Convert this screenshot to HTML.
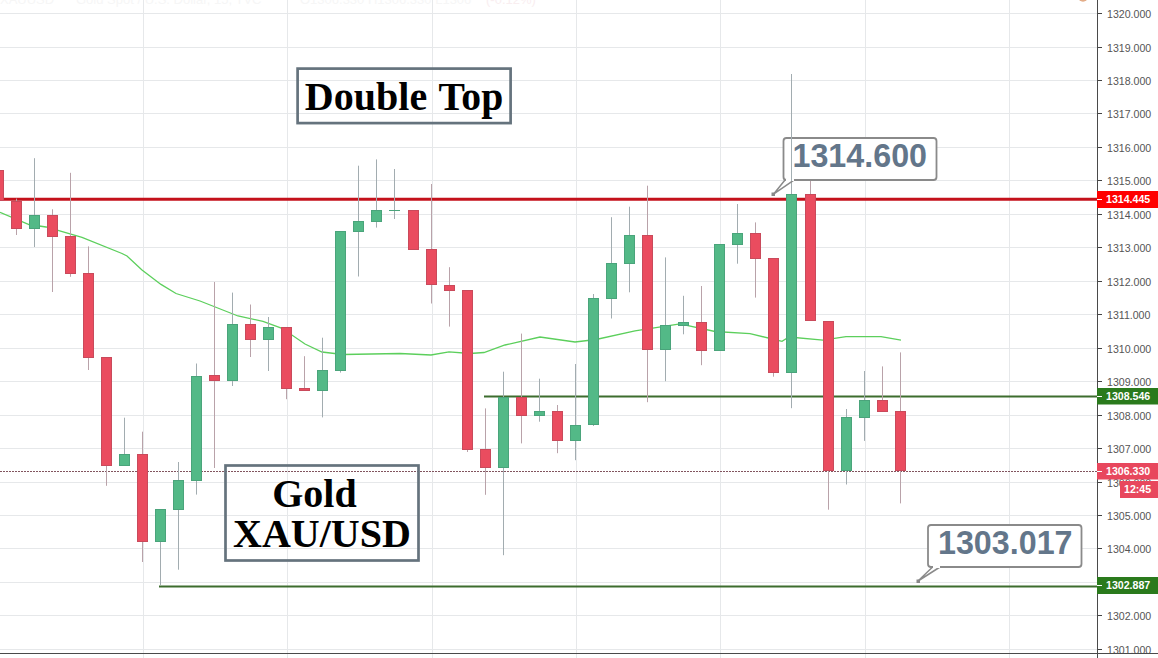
<!DOCTYPE html>
<html><head><meta charset="utf-8">
<style>
html,body{margin:0;padding:0;background:#fff;}
body{width:1158px;height:658px;overflow:hidden;position:relative;font-family:"Liberation Sans",sans-serif;}
svg{position:absolute;left:0;top:0;}
.g{stroke:#e6e8ea;stroke-width:1;}
.al{font-family:"Liberation Sans",sans-serif;font-size:10.6px;fill:#555;}
.lb{font-family:"Liberation Sans",sans-serif;font-size:10.6px;font-weight:bold;fill:#fff;}
.serif{font-family:"Liberation Serif",serif;font-weight:bold;fill:#000;font-size:40px;}
.co{font-family:"Liberation Sans",sans-serif;font-weight:bold;fill:#63768a;font-size:32.5px;}
</style></head><body>
<svg width="1158" height="658" viewBox="0 0 1158 658">
<g>
<line x1="0" y1="13.5" x2="1097" y2="13.5" class="g"/>
<line x1="0" y1="47.5" x2="1097" y2="47.5" class="g"/>
<line x1="0" y1="80.5" x2="1097" y2="80.5" class="g"/>
<line x1="0" y1="113.5" x2="1097" y2="113.5" class="g"/>
<line x1="0" y1="147.5" x2="1097" y2="147.5" class="g"/>
<line x1="0" y1="180.5" x2="1097" y2="180.5" class="g"/>
<line x1="0" y1="214.5" x2="1097" y2="214.5" class="g"/>
<line x1="0" y1="247.5" x2="1097" y2="247.5" class="g"/>
<line x1="0" y1="281.5" x2="1097" y2="281.5" class="g"/>
<line x1="0" y1="314.5" x2="1097" y2="314.5" class="g"/>
<line x1="0" y1="348.5" x2="1097" y2="348.5" class="g"/>
<line x1="0" y1="381.5" x2="1097" y2="381.5" class="g"/>
<line x1="0" y1="415.5" x2="1097" y2="415.5" class="g"/>
<line x1="0" y1="448.5" x2="1097" y2="448.5" class="g"/>
<line x1="0" y1="482.5" x2="1097" y2="482.5" class="g"/>
<line x1="0" y1="515.5" x2="1097" y2="515.5" class="g"/>
<line x1="0" y1="548.5" x2="1097" y2="548.5" class="g"/>
<line x1="0" y1="582.5" x2="1097" y2="582.5" class="g"/>
<line x1="0" y1="615.5" x2="1097" y2="615.5" class="g"/>
<line x1="0" y1="649.5" x2="1097" y2="649.5" class="g"/>
<line x1="143.5" y1="0" x2="143.5" y2="658" class="g"/>
<line x1="287.5" y1="0" x2="287.5" y2="658" class="g"/>
<line x1="432.5" y1="0" x2="432.5" y2="658" class="g"/>
<line x1="576.5" y1="0" x2="576.5" y2="658" class="g"/>
<line x1="720.5" y1="0" x2="720.5" y2="658" class="g"/>
<line x1="865.5" y1="0" x2="865.5" y2="658" class="g"/>
<line x1="1009.5" y1="0" x2="1009.5" y2="658" class="g"/>
<polyline fill="none" stroke="#5ccf5c" stroke-width="1.3" points="0,212.3 29,224.5 46,227 82,237.3 122,253.5 127,256 142,270 161,284.4 176,293.5 200,301 238,316 263,321.3 282,328.3 305,344 322,352 343,354.5 400,353.5 431,355 449,351.8 470,353.5 484,352.5 505,345 540,337 575,342 596,339.5 635,330.8 680,323.8 715,331.5 750,333.6 782,341.3 789,337 823,340.2 846,336.7 881,336.7 901,340.2"/>
<line x1="0" y1="199.3" x2="1097" y2="199.3" stroke="#c4111b" stroke-width="3"/>
<line x1="0" y1="471.5" x2="1097" y2="471.5" stroke="#82555f" stroke-width="1" stroke-dasharray="2 1"/>
<line x1="484" y1="396.5" x2="1097" y2="396.5" stroke="#3d6d2e" stroke-width="2"/>
<line x1="159" y1="586.4" x2="1097" y2="586.4" stroke="#3d6d2e" stroke-width="2"/>
<line x1="-1.5" y1="165" x2="-1.5" y2="203" stroke="#b9a2a9" stroke-width="1"/>
<rect x="-6.5" y="170.5" width="10" height="30" fill="#ea4c5f" stroke="#c94a5b" stroke-width="1"/>
<line x1="16.5" y1="198.6" x2="16.5" y2="235" stroke="#b9a2a9" stroke-width="1"/>
<rect x="11.5" y="201.5" width="10" height="27" fill="#ea4c5f" stroke="#c94a5b" stroke-width="1"/>
<line x1="34.5" y1="158.2" x2="34.5" y2="247" stroke="#a2acb0" stroke-width="1"/>
<rect x="29.5" y="215.5" width="10" height="13" fill="#53b987" stroke="#4aa47b" stroke-width="1"/>
<line x1="52.5" y1="209.3" x2="52.5" y2="292" stroke="#b9a2a9" stroke-width="1"/>
<rect x="47.5" y="215.5" width="10" height="21" fill="#ea4c5f" stroke="#c94a5b" stroke-width="1"/>
<line x1="70.5" y1="172.8" x2="70.5" y2="276.8" stroke="#b9a2a9" stroke-width="1"/>
<rect x="65.5" y="236.5" width="10" height="37" fill="#ea4c5f" stroke="#c94a5b" stroke-width="1"/>
<line x1="88.5" y1="246.4" x2="88.5" y2="370" stroke="#b9a2a9" stroke-width="1"/>
<rect x="83.5" y="273.5" width="10" height="84" fill="#ea4c5f" stroke="#c94a5b" stroke-width="1"/>
<line x1="106.5" y1="357" x2="106.5" y2="485.8" stroke="#b9a2a9" stroke-width="1"/>
<rect x="101.5" y="357.5" width="10" height="108" fill="#ea4c5f" stroke="#c94a5b" stroke-width="1"/>
<line x1="124.5" y1="417.7" x2="124.5" y2="466" stroke="#a2acb0" stroke-width="1"/>
<rect x="119.5" y="454.5" width="10" height="11" fill="#53b987" stroke="#4aa47b" stroke-width="1"/>
<line x1="142.5" y1="431.7" x2="142.5" y2="562" stroke="#b9a2a9" stroke-width="1"/>
<rect x="137.5" y="454.5" width="10" height="87" fill="#ea4c5f" stroke="#c94a5b" stroke-width="1"/>
<line x1="160.5" y1="509" x2="160.5" y2="585" stroke="#a2acb0" stroke-width="1"/>
<rect x="155.5" y="509.5" width="10" height="32" fill="#53b987" stroke="#4aa47b" stroke-width="1"/>
<line x1="178.5" y1="462" x2="178.5" y2="569.7" stroke="#a2acb0" stroke-width="1"/>
<rect x="173.5" y="480.5" width="10" height="29" fill="#53b987" stroke="#4aa47b" stroke-width="1"/>
<line x1="196.5" y1="363.5" x2="196.5" y2="494.6" stroke="#a2acb0" stroke-width="1"/>
<rect x="191.5" y="376.5" width="10" height="104" fill="#53b987" stroke="#4aa47b" stroke-width="1"/>
<line x1="214.5" y1="282" x2="214.5" y2="468" stroke="#b9a2a9" stroke-width="1"/>
<rect x="209.5" y="375.5" width="10" height="5" fill="#ea4c5f" stroke="#c94a5b" stroke-width="1"/>
<line x1="232.5" y1="292.6" x2="232.5" y2="386" stroke="#a2acb0" stroke-width="1"/>
<rect x="227.5" y="324.5" width="10" height="56" fill="#53b987" stroke="#4aa47b" stroke-width="1"/>
<line x1="250.5" y1="304.5" x2="250.5" y2="357" stroke="#b9a2a9" stroke-width="1"/>
<rect x="245.5" y="324.5" width="10" height="15" fill="#ea4c5f" stroke="#c94a5b" stroke-width="1"/>
<line x1="268.5" y1="317" x2="268.5" y2="371" stroke="#a2acb0" stroke-width="1"/>
<rect x="263.5" y="327.5" width="10" height="12" fill="#53b987" stroke="#4aa47b" stroke-width="1"/>
<line x1="286.5" y1="327" x2="286.5" y2="399.2" stroke="#b9a2a9" stroke-width="1"/>
<rect x="281.5" y="327.5" width="10" height="61" fill="#ea4c5f" stroke="#c94a5b" stroke-width="1"/>
<line x1="304.5" y1="356.2" x2="304.5" y2="391" stroke="#b9a2a9" stroke-width="1"/>
<rect x="299.5" y="388.5" width="10" height="2" fill="#ea4c5f" stroke="#c94a5b" stroke-width="1"/>
<line x1="322.5" y1="337.7" x2="322.5" y2="417.4" stroke="#a2acb0" stroke-width="1"/>
<rect x="317.5" y="370.5" width="10" height="20" fill="#53b987" stroke="#4aa47b" stroke-width="1"/>
<line x1="340.5" y1="231" x2="340.5" y2="372.6" stroke="#a2acb0" stroke-width="1"/>
<rect x="335.5" y="231.5" width="10" height="139" fill="#53b987" stroke="#4aa47b" stroke-width="1"/>
<line x1="358.5" y1="165.7" x2="358.5" y2="276.5" stroke="#a2acb0" stroke-width="1"/>
<rect x="353.5" y="221.5" width="10" height="10" fill="#53b987" stroke="#4aa47b" stroke-width="1"/>
<line x1="376.5" y1="159.4" x2="376.5" y2="227.6" stroke="#a2acb0" stroke-width="1"/>
<rect x="371.5" y="210.5" width="10" height="11" fill="#53b987" stroke="#4aa47b" stroke-width="1"/>
<line x1="394.5" y1="169" x2="394.5" y2="219" stroke="#a2acb0" stroke-width="1"/>
<rect x="389" y="210" width="11" height="1" fill="#4aa47b"/>
<line x1="413.5" y1="210.2" x2="413.5" y2="249.7" stroke="#b9a2a9" stroke-width="1"/>
<rect x="408.5" y="210.5" width="10" height="39" fill="#ea4c5f" stroke="#c94a5b" stroke-width="1"/>
<line x1="431.5" y1="184" x2="431.5" y2="303.5" stroke="#b9a2a9" stroke-width="1"/>
<rect x="426.5" y="249.5" width="10" height="35" fill="#ea4c5f" stroke="#c94a5b" stroke-width="1"/>
<line x1="449.5" y1="267.2" x2="449.5" y2="326.6" stroke="#b9a2a9" stroke-width="1"/>
<rect x="444.5" y="285.5" width="10" height="5" fill="#ea4c5f" stroke="#c94a5b" stroke-width="1"/>
<line x1="467.5" y1="290" x2="467.5" y2="452" stroke="#b9a2a9" stroke-width="1"/>
<rect x="462.5" y="290.5" width="10" height="159" fill="#ea4c5f" stroke="#c94a5b" stroke-width="1"/>
<line x1="485.5" y1="408.4" x2="485.5" y2="494.8" stroke="#b9a2a9" stroke-width="1"/>
<rect x="480.5" y="449.5" width="10" height="18" fill="#ea4c5f" stroke="#c94a5b" stroke-width="1"/>
<line x1="503.5" y1="371.7" x2="503.5" y2="555.2" stroke="#a2acb0" stroke-width="1"/>
<rect x="498.5" y="397.5" width="10" height="70" fill="#53b987" stroke="#4aa47b" stroke-width="1"/>
<line x1="521.5" y1="333.6" x2="521.5" y2="443.4" stroke="#b9a2a9" stroke-width="1"/>
<rect x="516.5" y="397.5" width="10" height="18" fill="#ea4c5f" stroke="#c94a5b" stroke-width="1"/>
<line x1="539.5" y1="378.7" x2="539.5" y2="421.7" stroke="#a2acb0" stroke-width="1"/>
<rect x="534.5" y="411.5" width="10" height="4" fill="#53b987" stroke="#4aa47b" stroke-width="1"/>
<line x1="557.5" y1="405" x2="557.5" y2="453.2" stroke="#b9a2a9" stroke-width="1"/>
<rect x="552.5" y="411.5" width="10" height="29" fill="#ea4c5f" stroke="#c94a5b" stroke-width="1"/>
<line x1="575.5" y1="364" x2="575.5" y2="460.2" stroke="#a2acb0" stroke-width="1"/>
<rect x="570.5" y="425.5" width="10" height="15" fill="#53b987" stroke="#4aa47b" stroke-width="1"/>
<line x1="593.5" y1="294" x2="593.5" y2="426" stroke="#a2acb0" stroke-width="1"/>
<rect x="588.5" y="298.5" width="10" height="126" fill="#53b987" stroke="#4aa47b" stroke-width="1"/>
<line x1="611.5" y1="217.2" x2="611.5" y2="318.5" stroke="#a2acb0" stroke-width="1"/>
<rect x="606.5" y="263.5" width="10" height="35" fill="#53b987" stroke="#4aa47b" stroke-width="1"/>
<line x1="629.5" y1="206.7" x2="629.5" y2="292.3" stroke="#a2acb0" stroke-width="1"/>
<rect x="624.5" y="235.5" width="10" height="28" fill="#53b987" stroke="#4aa47b" stroke-width="1"/>
<line x1="647.5" y1="185.7" x2="647.5" y2="402.2" stroke="#b9a2a9" stroke-width="1"/>
<rect x="642.5" y="235.5" width="10" height="114" fill="#ea4c5f" stroke="#c94a5b" stroke-width="1"/>
<line x1="665.5" y1="257.4" x2="665.5" y2="381.2" stroke="#a2acb0" stroke-width="1"/>
<rect x="660.5" y="325.5" width="10" height="24" fill="#53b987" stroke="#4aa47b" stroke-width="1"/>
<line x1="683.5" y1="295.8" x2="683.5" y2="334.3" stroke="#a2acb0" stroke-width="1"/>
<rect x="678.5" y="322.5" width="10" height="3" fill="#53b987" stroke="#4aa47b" stroke-width="1"/>
<line x1="701.5" y1="286" x2="701.5" y2="365.2" stroke="#b9a2a9" stroke-width="1"/>
<rect x="696.5" y="322.5" width="10" height="28" fill="#ea4c5f" stroke="#c94a5b" stroke-width="1"/>
<line x1="719.5" y1="244" x2="719.5" y2="351" stroke="#a2acb0" stroke-width="1"/>
<rect x="714.5" y="244.5" width="10" height="106" fill="#53b987" stroke="#4aa47b" stroke-width="1"/>
<line x1="737.5" y1="204" x2="737.5" y2="263.7" stroke="#a2acb0" stroke-width="1"/>
<rect x="732.5" y="233.5" width="10" height="11" fill="#53b987" stroke="#4aa47b" stroke-width="1"/>
<line x1="755.5" y1="222.4" x2="755.5" y2="297.6" stroke="#b9a2a9" stroke-width="1"/>
<rect x="750.5" y="233.5" width="10" height="25" fill="#ea4c5f" stroke="#c94a5b" stroke-width="1"/>
<line x1="773.5" y1="258" x2="773.5" y2="376.7" stroke="#b9a2a9" stroke-width="1"/>
<rect x="768.5" y="258.5" width="10" height="114" fill="#ea4c5f" stroke="#c94a5b" stroke-width="1"/>
<line x1="791.5" y1="74" x2="791.5" y2="408.2" stroke="#a2acb0" stroke-width="1"/>
<rect x="786.5" y="194.5" width="10" height="178" fill="#53b987" stroke="#4aa47b" stroke-width="1"/>
<line x1="810.5" y1="180.6" x2="810.5" y2="321" stroke="#b9a2a9" stroke-width="1"/>
<rect x="805.5" y="194.5" width="10" height="126" fill="#ea4c5f" stroke="#c94a5b" stroke-width="1"/>
<line x1="828.5" y1="321" x2="828.5" y2="509.7" stroke="#b9a2a9" stroke-width="1"/>
<rect x="823.5" y="321.5" width="10" height="149" fill="#ea4c5f" stroke="#c94a5b" stroke-width="1"/>
<line x1="846.5" y1="409" x2="846.5" y2="484.5" stroke="#a2acb0" stroke-width="1"/>
<rect x="841.5" y="417.5" width="10" height="53" fill="#53b987" stroke="#4aa47b" stroke-width="1"/>
<line x1="864.5" y1="371" x2="864.5" y2="440.9" stroke="#a2acb0" stroke-width="1"/>
<rect x="859.5" y="400.5" width="10" height="17" fill="#53b987" stroke="#4aa47b" stroke-width="1"/>
<line x1="882.5" y1="366.4" x2="882.5" y2="411.8" stroke="#b9a2a9" stroke-width="1"/>
<rect x="877.5" y="400.5" width="10" height="11" fill="#ea4c5f" stroke="#c94a5b" stroke-width="1"/>
<line x1="900.5" y1="352.4" x2="900.5" y2="503.4" stroke="#b9a2a9" stroke-width="1"/>
<rect x="895.5" y="411.5" width="10" height="59" fill="#ea4c5f" stroke="#c94a5b" stroke-width="1"/>
</g>
<!-- faint top text -->
<g font-family="Liberation Sans" font-size="13" fill="#f6f6f6">
<text x="0" y="4">XAUUSD</text><text x="76" y="4">Gold Spot / U.S. Dollar, 15, TVC</text><text x="300" y="4">O1306.330 H1306.330 L1306</text><text x="486" y="4" fill="#f9eef0">(-0.12%)</text>
</g>
<!-- Double Top box -->
<rect x="297.6" y="68.6" width="213" height="54.5" fill="none" stroke="#65737d" stroke-width="2.7"/>
<text x="304.8" y="110" class="serif" style="font-size:41px" textLength="122.4" lengthAdjust="spacingAndGlyphs">Double</text><text x="438.5" y="110" class="serif" style="font-size:41px" textLength="64.7" lengthAdjust="spacingAndGlyphs">Top</text>
<!-- Gold box -->
<rect x="225.5" y="465.5" width="193" height="95" fill="none" stroke="#65737d" stroke-width="2.7"/>
<text x="314.5" y="506.5" class="serif" text-anchor="middle">Gold</text>
<text x="322" y="546.7" class="serif" text-anchor="middle">XAU/USD</text>
<!-- callout 1 -->
<path d="M785.2,179.8 L773.5,194.2 L794.3,179.8" fill="#fff" stroke="#8a8a8a" stroke-width="1.5"/>
<rect x="783.5" y="138" width="153" height="42" rx="3" fill="#fff" stroke="#8a8a8a" stroke-width="1.8"/>
<rect x="786" y="179" width="8" height="2" fill="#fff"/>
<rect x="771.5" y="192.5" width="3.5" height="3.5" fill="#888"/>
<line x1="791.5" y1="137" x2="791.5" y2="181" stroke="#a3afb3" stroke-width="1"/>
<text x="792.5" y="166.5" class="co" textLength="134.5" lengthAdjust="spacingAndGlyphs">1314.600</text>
<!-- callout 2 -->
<path d="M932.6,567 L918,581 L940,567" fill="#fff" stroke="#8a8a8a" stroke-width="1.5"/>
<rect x="928" y="525" width="153.5" height="42" rx="3" fill="#fff" stroke="#8a8a8a" stroke-width="1.8"/>
<rect x="933" y="566" width="7" height="2" fill="#fff"/>
<rect x="916.5" y="579.5" width="3.5" height="3.5" fill="#888"/>
<text x="938" y="554" class="co" textLength="134.5" lengthAdjust="spacingAndGlyphs">1303.017</text>
<!-- axis -->
<rect x="1098" y="0" width="60" height="653" fill="#fff"/>
<line x1="1097" y1="13.5" x2="1102" y2="13.5" stroke="#444" stroke-width="1"/>
<text x="1107" y="18.1" class="al">1320.000</text>
<line x1="1097" y1="47.5" x2="1102" y2="47.5" stroke="#444" stroke-width="1"/>
<text x="1107" y="52.1" class="al">1319.000</text>
<line x1="1097" y1="80.5" x2="1102" y2="80.5" stroke="#444" stroke-width="1"/>
<text x="1107" y="85.1" class="al">1318.000</text>
<line x1="1097" y1="113.5" x2="1102" y2="113.5" stroke="#444" stroke-width="1"/>
<text x="1107" y="118.1" class="al">1317.000</text>
<line x1="1097" y1="147.5" x2="1102" y2="147.5" stroke="#444" stroke-width="1"/>
<text x="1107" y="152.1" class="al">1316.000</text>
<line x1="1097" y1="180.5" x2="1102" y2="180.5" stroke="#444" stroke-width="1"/>
<text x="1107" y="185.1" class="al">1315.000</text>
<line x1="1097" y1="214.5" x2="1102" y2="214.5" stroke="#444" stroke-width="1"/>
<text x="1107" y="219.1" class="al">1314.000</text>
<line x1="1097" y1="247.5" x2="1102" y2="247.5" stroke="#444" stroke-width="1"/>
<text x="1107" y="252.1" class="al">1313.000</text>
<line x1="1097" y1="281.5" x2="1102" y2="281.5" stroke="#444" stroke-width="1"/>
<text x="1107" y="286.1" class="al">1312.000</text>
<line x1="1097" y1="314.5" x2="1102" y2="314.5" stroke="#444" stroke-width="1"/>
<text x="1107" y="319.1" class="al">1311.000</text>
<line x1="1097" y1="348.5" x2="1102" y2="348.5" stroke="#444" stroke-width="1"/>
<text x="1107" y="353.1" class="al">1310.000</text>
<line x1="1097" y1="381.5" x2="1102" y2="381.5" stroke="#444" stroke-width="1"/>
<text x="1107" y="386.1" class="al">1309.000</text>
<line x1="1097" y1="415.5" x2="1102" y2="415.5" stroke="#444" stroke-width="1"/>
<text x="1107" y="420.1" class="al">1308.000</text>
<line x1="1097" y1="448.5" x2="1102" y2="448.5" stroke="#444" stroke-width="1"/>
<text x="1107" y="453.1" class="al">1307.000</text>
<line x1="1097" y1="482.5" x2="1102" y2="482.5" stroke="#444" stroke-width="1"/>
<text x="1107" y="487.1" class="al">1306.000</text>
<line x1="1097" y1="515.5" x2="1102" y2="515.5" stroke="#444" stroke-width="1"/>
<text x="1107" y="520.1" class="al">1305.000</text>
<line x1="1097" y1="548.5" x2="1102" y2="548.5" stroke="#444" stroke-width="1"/>
<text x="1107" y="553.1" class="al">1304.000</text>
<line x1="1097" y1="582.5" x2="1102" y2="582.5" stroke="#444" stroke-width="1"/>
<text x="1107" y="587.1" class="al">1303.000</text>
<line x1="1097" y1="615.5" x2="1102" y2="615.5" stroke="#444" stroke-width="1"/>
<text x="1107" y="620.1" class="al">1302.000</text>
<line x1="1097" y1="649.5" x2="1102" y2="649.5" stroke="#444" stroke-width="1"/>
<text x="1107" y="654.1" class="al">1301.000</text>
<line x1="1097.5" y1="0" x2="1097.5" y2="658" stroke="#4a4a4a" stroke-width="1"/>
<line x1="0" y1="653.5" x2="1158" y2="653.5" stroke="#4a4a4a" stroke-width="1"/>
<rect x="1097" y="654" width="61" height="4" fill="#fff"/>
<line x1="1097.5" y1="653" x2="1097.5" y2="658" stroke="#4a4a4a" stroke-width="1"/>
<!-- price labels -->
<rect x="1097" y="191" width="61" height="17" fill="#ff0000"/>
<line x1="1097" y1="199.5" x2="1102" y2="199.5" stroke="#fff"/>
<text x="1106" y="203" class="lb">1314.445</text>
<rect x="1097" y="388" width="61" height="16.5" fill="#2a7a1c"/>
<line x1="1097" y1="396.5" x2="1102" y2="396.5" stroke="#fff"/>
<text x="1106" y="399.8" class="lb">1308.546</text>
<rect x="1097" y="463" width="61" height="16.5" fill="#e8475d"/>
<line x1="1097" y1="471.5" x2="1102" y2="471.5" stroke="#fff"/>
<text x="1106" y="474.8" class="lb">1306.330</text>
<rect x="1120" y="481" width="38" height="17" fill="#e8475d"/>
<text x="1124" y="493" class="lb">12:45</text>
<rect x="1097" y="577" width="61" height="17" fill="#2a7a1c"/>
<line x1="1097" y1="585.5" x2="1102" y2="585.5" stroke="#fff"/>
<text x="1106" y="589" class="lb">1302.887</text>
<circle cx="1083" cy="-3.3" r="5" fill="#e3ad88"/>
</svg>
</body></html>
